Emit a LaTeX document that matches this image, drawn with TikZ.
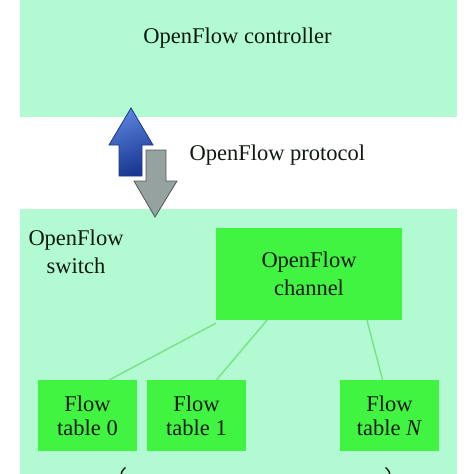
\documentclass[tikz,border=0pt]{standalone}
\usepackage{fontspec}
\setmainfont{Liberation Serif}
\usetikzlibrary{calc}
\definecolor{bgmint}{RGB}{178,250,210}
\definecolor{boxgreen}{RGB}{66,244,66}
\definecolor{linkgreen}{RGB}{120,226,132}
\definecolor{txt}{RGB}{15,25,15}
\definecolor{bluelight}{RGB}{90,130,220}
\definecolor{bluedark}{RGB}{25,55,145}
\definecolor{arrgray}{RGB}{150,162,160}
\definecolor{arrgrayedge}{RGB}{80,88,88}
\begin{document}
\begin{tikzpicture}[x=1pt,y=-1pt,
  every node/.style={text=txt,font=\fontsize{22.5}{25}\selectfont},
  panel/.style={fill=bgmint,draw=none,inner sep=0pt,minimum width=437pt},
  gbox/.style={fill=boxgreen,draw=none,inner sep=0pt,align=center},
  link/.style={draw=linkgreen,line width=1.4pt},
  bracemark/.style={draw=txt,line width=1.4pt}]
\useasboundingbox (0,0) rectangle (474,474);
\clip (0,0) rectangle (474,474);
% panels
\node[panel,minimum height=117pt,anchor=north west] (ctrl) at (20,0) {};
\node at (237.5,38) (ctrltxt) {OpenFlow controller};
\node[panel,minimum height=270pt,anchor=north west] (sw) at (20,209) {};
\node[align=center,font=\fontsize{22.5}{28}\selectfont,anchor=north] (swtxt) at (76,226) {OpenFlow\\switch};
% channel and tables
\node[gbox,minimum width=186pt,minimum height=92pt,font=\fontsize{22.5}{28}\selectfont] (ch) at (309,274) {OpenFlow\\channel};
\node[gbox,minimum width=99pt,minimum height=71pt,font=\fontsize{22.5}{24}\selectfont] (t0) at (87.5,415.5) {Flow\\table 0};
\node[gbox,minimum width=99pt,minimum height=71pt,font=\fontsize{22.5}{24}\selectfont] (t1) at (196.5,415.5) {Flow\\table 1};
\node[gbox,minimum width=99pt,minimum height=71pt,font=\fontsize{22.5}{24}\selectfont] (tN) at (389.5,415.5) {Flow\\table \textit{N}};
\draw[link] ([yshift=-3pt]ch.south west) -- ([xshift=22pt]t0.north);
\draw[link] ([xshift=-42pt]ch.south) -- ([xshift=20pt]t1.north);
\draw[link] ([xshift=58pt]ch.south) -- ([xshift=-7pt]tN.north);
% bracket ends at the bottom edge
\draw[bracemark] (125.5,467.5) .. controls (122.5,470) and (121,472.5) .. (120.5,476);
\draw[bracemark] (385.5,467.5) .. controls (388.5,470) and (390,472.5) .. (390.5,476);
% protocol arrows
\draw[draw=bluedark,line width=0.8pt,top color=bluelight,bottom color=bluedark,shading angle=20]
  (131,108) -- (153,145) -- (142,145) -- (142,176) -- (119,176) -- (119,145) -- (109,145) -- cycle;
\draw[draw=arrgrayedge,line width=0.8pt,fill=arrgray]
  (146,150) -- (166,150) -- (166,181) -- (177,181) -- (155,217) -- (134,181) -- (146,181) -- cycle;
\node[anchor=west] (proto) at (186,155) {OpenFlow protocol};
\end{tikzpicture}
\end{document}
